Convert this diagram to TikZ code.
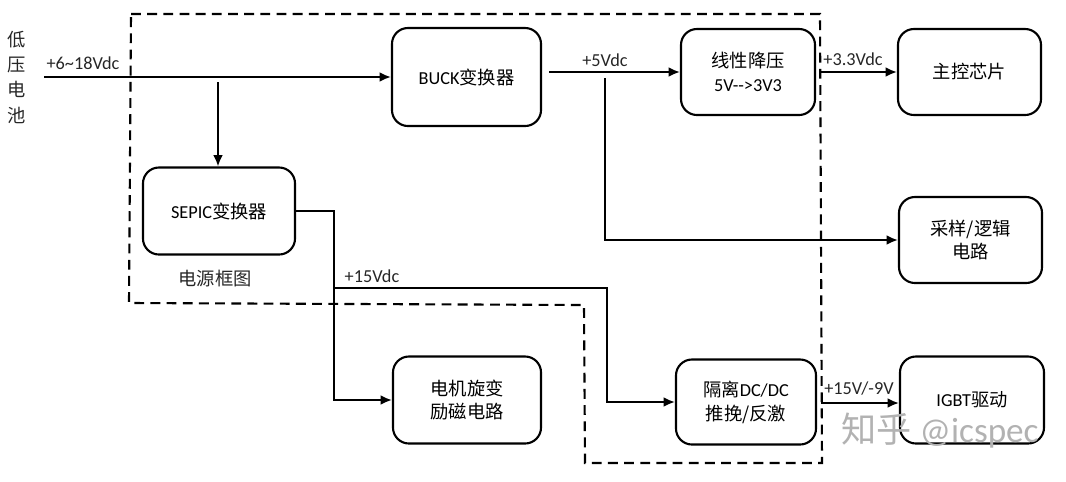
\documentclass[tikz,border=0pt]{standalone}
\usepackage{fontspec}
\setmainfont{Carlito}
\newfontfamily\cjk{Noto Sans CJK SC}
\usetikzlibrary{arrows.meta}
\tikzset{
    block/.style={draw, line width=1.5pt, rounded corners=.4cm, inner sep=0pt, align=center, font=\fontsize{13}{17}\selectfont},
    wire/.style={line width=1.5pt, -{Latex[length=8pt, width=7pt]}},
    tag/.style={inner sep=0pt, font=\fontsize{13}{15}\selectfont, text=black!85},
}
\begin{document}
\begin{tikzpicture}[x=.025cm, y=-.025cm]
    \useasboundingbox (0, 0) rectangle (1066, 481);
    \node[block, minimum width=3.725cm, minimum height=2.45cm] (buck) at (466.5, 77) {BUCK{\cjk 变换器}};
    \node[block, minimum width=3.35cm, minimum height=2.15cm] (ldo) at (748, 72) {{\cjk 线性降压}\\5V-{}->3V3};
    \node[block, minimum width=3.575cm, minimum height=2.15cm] (mcu) at (969.5, 72) {{\cjk 主控芯片}};
    \node[block, minimum width=3.575cm, minimum height=2.15cm] (logic) at (970.5, 240) {{\cjk 采样/逻辑}\\{\cjk 电路}};
    \node[block, minimum width=3.8cm, minimum height=2.175cm] (sepic) at (219, 211) {SEPIC{\cjk 变换器}};
    \node[block, minimum width=3.7cm, minimum height=2.175cm] (motor) at (467, 400) {{\cjk 电机旋变}\\{\cjk 励磁电路}};
    \node[block, minimum width=3.5cm, minimum height=2.125cm] (iso) at (746, 402) {{\cjk 隔离}DC/DC\\{\cjk 推挽/反激}};
    \node[block, minimum width=3.6cm, minimum height=2.175cm] (igbt) at (972, 400) {IGBT{\cjk 驱动}};

    \draw[line width=1.5pt, dash pattern=on 7pt off 4.5pt] (131, 14) -- (820, 14) -- (822, 463) -- (585, 463) -- (584, 305) -- (129, 303) -- cycle;

    \coordinate (batt) at (44, 77);
    \coordinate (tap) at (218, 82);
    \coordinate (buckout) at (549, 72);
    \coordinate (fivev) at (605, 78);
    \coordinate (isotap) at (334, 288);
    \coordinate (isobend) at (607, 288);
    \coordinate (isoout) at (821, 403);
    \coordinate (ldoout) at (820, 72);

    \draw[wire] (batt) -- (buck.west);
    \draw[wire] (tap) -- (sepic.north -| tap);
    \draw[wire] (buckout) -- (ldo.west);
    \draw[wire] (fivev) |- (logic.west);
    \draw[wire] (ldoout) -- (mcu.west);
    \draw[wire] (sepic.east) -| (isotap) |- (motor.west);
    \draw[wire] (isotap) -- (isobend) |- (iso.west);
    \draw[wire] (isoout) -- (isoout -| igbt.west);

    \node[tag] (vin) at (83, 63) {+6\textasciitilde 18Vdc};
    \node[tag] (vfive) at (605, 60) {+5Vdc};
    \node[tag] (vthree) at (853, 59) {+3.3Vdc};
    \node[tag] (vfifteen) at (372, 276) {+15Vdc};
    \node[tag] (vigbt) at (859, 389) {+15V/-9V};
    \node[tag, font=\fontsize{13}{15}\selectfont\cjk] (frame) at (215, 279) {电源框图};
    \node[tag, font=\fontsize{13}{18}\selectfont\cjk, align=center] (battery) at (17, 77) {低\\压\\电\\池};
    \node[tag, text=black!30, font=\fontsize{25}{28}\selectfont] (mark) at (940, 431) {{\cjk 知乎} @icspec};
\end{tikzpicture}
\end{document}
